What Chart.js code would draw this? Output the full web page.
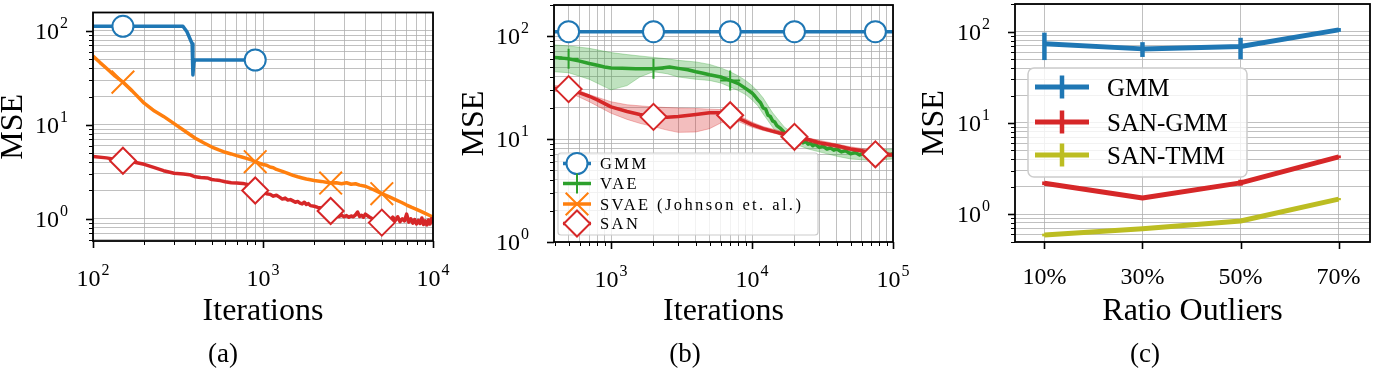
<!DOCTYPE html>
<html>
<head>
<meta charset="utf-8">
<script src="https://cdn.jsdelivr.net/npm/chart.js@4.4.1/dist/chart.umd.min.js"></script>
<style>
  html, body { margin: 0; padding: 0; background: #fff; }
  #wrap { position: relative; width: 1373px; height: 373px; overflow: hidden; background: #fff; }
  canvas { position: absolute; top: 0; }
</style>
</head>
<body>
<div id="wrap">
  <canvas id="g_a" width="455" height="373" style="left:0px"></canvas>
  <canvas id="g_b" width="465" height="373" style="left:455px"></canvas>
  <canvas id="g_c" width="468" height="373" style="left:905px"></canvas>
</div>
<script>
//Couleurs et police
const BLEU = '#1f77b4', ORANGE = '#ff7f0e', VERT = '#2ca02c', ROUGE = '#d62728', OLIVE = '#bcbd22';
const SERIF = "'Liberation Serif', 'DejaVu Serif', serif";

//---- (a) donnees ----
const aGmmX = [100, 150, 338, 357, 383, 387, 392, 398, 900];
const aGmmY = [112, 112, 112, 98, 73, 34, 46, 49, 49];
const aGmmMarks = [150, 900];

const aSvaeX = [100,110,120,135,150,170,200,230,260,300,
  350,400,450,500,550,600,650,700,750,800,
  850,900,950,1000,1050,1100,1150,1200,1300,1400,
  1500,1600,1700,1800,1900,2000,2200,2500,2700,2900,
  3100,3300,3500,3700,4000,4300,4600,5000,5500,6000,
  6500,7000,7500,8000,8500,9000,9500,10000];
const aSvaeY = [54,46,40,33,28.5,23,17,14,12.3,10.3,
  8.5,7.2,6.4,5.8,5.4,5.1,4.9,4.7,4.55,4.4,
  4.25,4.05,3.9,3.78,3.72,3.55,3.5,3.35,3.2,3.05,
  2.9,2.8,2.72,2.65,2.6,2.55,2.5,2.4,2.42,2.36,
  2.42,2.33,2.36,2.28,2.22,2.1,1.99,1.85,1.72,1.6,
  1.5,1.4,1.32,1.26,1.2,1.14,1.09,1.04];
const aSvaeMarks = [150, 900, 2500, 5000];

const aSanX = [100,120,150,170,200,230,260,300,340,370,
  400,430,470,500,530,560,600,650,700,760,
  820,870,900,950,1000,1050,1100,1150,1200,1250,
  1300,1350,1400,1450,1500,1550,1600,1650,1700,1750,
  1800,1850,1900,2000,2100,2200,2300,2400,2500,2600,
  2700,2800,2900,3000,3100,3200,3300,3400,3500,3600,
  3700,3800,3900,4000,4200,4400,4600,4800,5000,5200,
  5400,5600,5800,6000,6200,6400,6600,6800,7000,7200,
  7400,7600,7800,8000,8200,8400,8600,8800,9000,9200,
  9400,9600,9800,10000];
const aSanY = [4.6,4.45,4.15,4.05,3.8,3.5,3.25,3.05,3.0,2.95,
  2.8,2.75,2.72,2.62,2.58,2.55,2.48,2.42,2.4,2.38,
  2.3,2.15,2.0,1.98,1.95,1.85,1.82,1.74,1.78,1.7,
  1.62,1.66,1.58,1.6,1.55,1.5,1.53,1.47,1.44,1.5,
  1.42,1.45,1.38,1.36,1.32,1.3,1.26,1.23,1.21,1.15,
  1.1,1.06,1.09,1.05,1.08,1.04,1.07,1.05,1.1,1.18,
  1.06,1.09,1.04,1.12,1.05,1.0,0.96,0.93,0.91,0.95,
  1.02,0.97,1.04,0.96,1.05,0.93,1.0,0.95,1.12,0.92,
  1.0,0.9,0.98,0.88,0.96,0.89,1.02,0.87,0.95,0.86,
  0.97,0.88,1.0,0.9];
const aSanMarks = [150, 900, 2500, 5000];

//---- (b) donnees ----
const bLabels = ['GMM', 'VAE', 'SVAE (Johnson et. al.)', 'SAN'];
const bGmmX = [394, 500, 2000, 7000, 20000, 75000, 100000];
const bGmmY = [110, 110, 110, 110, 110, 110, 110];
const bMarks = [500, 2000, 7000, 20000, 75000];
const bVaeMarks = [500, 2000, 7000];

const bVaeX = [394,450,500,600,700,800,900,1000,1200,1500,
  2000,2300,2600,3000,3500,4000,4500,5000,6000,7000,
  8000,9000,10000,10500,11000,11500,12000,12500,13000,13500,
  14000,14500,15000,16000,17000,18000,19000,20000,21000,22000,
  23000,24000,25000,26000,27000,28000,30000,32000,34000,36000,
  38000,40000,43000,46000,50000,54000,58000,62000,66000,70000,
  75000,80000,85000,90000,95000,100000];
const bVaeY = [62,61,60,57,54,52,50,49,48.5,48,
  48,49,50,48.5,47,45,43.5,42,40,37,
  34.5,31,28,26,24,22.5,20,19.5,17,16.5,
  15,14.6,13.5,12.6,11.5,11,10.3,10.0,9.5,9.8,
  9.2,9.5,8.9,9.1,8.6,8.9,8.3,8.5,8.0,8.2,
  7.8,8.0,7.5,7.7,7.2,7.4,7.0,7.3,6.9,7.2,
  7.0,7.3,6.9,7.2,7.0,7.2];

const bVaeBandX = [394,500,700,1000,1300,1600,2000,2500,3000,4000,
  5000,6000,7000,8000,9000,10000,11000,12000,13000,14000,
  15000,17000,20000,25000,30000,40000,50000,70000,100000];
const bVaeHigh = [82,80,76,69,66,64,62,60,58,56,
  53,49,45,41,37,33,29,25,21,18,
  16,13,11.2,9.8,9.2,8.5,7.9,7.8,8.0];
const bVaeLow = [45,44,38,30,33,40,45,43,40,38,
  37,35,32,29.5,27,24,21,17.5,15,13,
  11.5,10,9.0,8.0,7.5,6.8,6.4,6.2,6.4];

const bSanX = [394,500,600,700,800,1000,1300,1600,2000,2500,
  3000,4000,5000,6000,7000,8000,10000,12000,15000,20000,
  25000,30000,40000,50000,60000,75000,100000];
const bSanY = [31,30.5,28,26,24,20.5,18.5,17.3,16.4,16.3,
  16.5,17.3,18,18,17,15.9,13.8,12.6,11.6,10.5,
  9.9,9.2,8.6,8.0,7.7,7.1,7.0];

const bSanBandX = [394,500,700,1000,1300,1600,2000,2500,3000,4000,
  5000,6000,7000,8000,10000,12000,15000,20000,30000,50000,100000];
const bSanHigh = [33,32.5,27,23,21.5,21,20.5,20.2,20,19.8,
  19.5,19.3,18.5,17,14.6,13.2,12.2,11,9.7,8.4,7.3];
const bSanLow = [29,28.5,23,17.8,15.5,14.2,13.2,12.2,11.6,11.7,
  12.6,14.3,15.6,14.8,13.0,12.1,11.2,10.1,8.8,7.7,6.7];

//---- (c) donnees ----
const cLabels = ['GMM', 'SAN-GMM', 'SAN-TMM'];
const cCats = ['10%', '30%', '50%', '70%'];
const cGmm = [74, 65, 69, 105];
const cGmmLo = [49, 53, 50, 100];
const cGmmHi = [98, 77, 86, 110];
const cSanGmm = [2.18, 1.5, 2.2, 4.25];
const cSanGmmLo = [2.08, 1.44, 2.05, 4.1];
const cSanGmmHi = [2.28, 1.56, 2.38, 4.4];
const cSanTmm = [0.59, 0.69, 0.84, 1.46];
const cSanTmmLo = [0.57, 0.67, 0.81, 1.42];
const cSanTmmHi = [0.61, 0.71, 0.87, 1.5];

//fonction qui transforme deux listes en points {x, y}
function points(xs, ys) {
    return xs.map((x, i) => ({x: x, y: ys[i]}));
}
//rayon du marqueur seulement aux abscisses choisies
function marqueurs(marks, r) {
    return ctx => (ctx.raw && marks.includes(ctx.raw.x)) ? r : 0;
}
//graduations log : 1..9 x 10^n entre min et max
function logTicks(min, max) {
    let ticks = [];
    for (let e = Math.floor(Math.log10(min)); e <= Math.ceil(Math.log10(max)); e++) {
        for (let m = 1; m <= 9; m++) {
            let v = m * Math.pow(10, e);
            if (v >= min * 0.9999 && v <= max * 1.0001) ticks.push({value: v, major: m === 1});
        }
    }
    return ticks;
}

//etiquette "10" avec exposant
function puissance(ctx, exp, x, y, align) {
    ctx.font = '24px ' + SERIF;
    const wb = ctx.measureText('10').width;
    ctx.font = '16px ' + SERIF;
    const we = ctx.measureText(String(exp)).width;
    const left = align === 'right' ? x - wb - 1 - we : x - (wb + 1 + we) / 2;
    ctx.textAlign = 'left';
    ctx.font = '24px ' + SERIF;
    ctx.fillText('10', left, y);
    ctx.font = '16px ' + SERIF;
    ctx.fillText(String(exp), left + wb + 1, y - 11);
}

//marqueur dessine a la main pour la legende
function marqueur(ctx, style, x, y, r, color) {
    ctx.strokeStyle = color;
    ctx.fillStyle = '#fff';
    ctx.lineWidth = 2;
    ctx.beginPath();
    if (style === 'circle') {
        ctx.arc(x, y, r, 0, 2 * Math.PI);
        ctx.fill(); ctx.stroke();
    } else if (style === 'rectRot') {
        ctx.moveTo(x, y - r); ctx.lineTo(x + r, y); ctx.lineTo(x, y + r); ctx.lineTo(x - r, y);
        ctx.closePath(); ctx.fill(); ctx.stroke();
    } else if (style === 'cross') {
        ctx.moveTo(x - r, y); ctx.lineTo(x + r, y); ctx.moveTo(x, y - r); ctx.lineTo(x, y + r);
        ctx.stroke();
    } else if (style === 'crossRot') {
        const d = r * Math.SQRT1_2;
        ctx.moveTo(x - d, y - d); ctx.lineTo(x + d, y + d); ctx.moveTo(x + d, y - d); ctx.lineTo(x - d, y + d);
        ctx.stroke();
    }
}

function boiteArrondie(ctx, x, y, w, h, r) {
    ctx.beginPath();
    ctx.moveTo(x + r, y);
    ctx.lineTo(x + w - r, y); ctx.arcTo(x + w, y, x + w, y + r, r);
    ctx.lineTo(x + w, y + h - r); ctx.arcTo(x + w, y + h, x + w - r, y + h, r);
    ctx.lineTo(x + r, y + h); ctx.arcTo(x, y + h, x, y + h - r, r);
    ctx.lineTo(x, y + r); ctx.arcTo(x, y, x + r, y, r);
    ctx.closePath();
}

function legende(ctx, lg) {
    ctx.save();
    boiteArrondie(ctx, lg.box[0], lg.box[1], lg.box[2], lg.box[3], lg.radius);
    ctx.fillStyle = 'rgba(255,255,255,0.8)';
    ctx.fill();
    ctx.strokeStyle = '#cccccc';
    ctx.lineWidth = lg.boxLine;
    ctx.stroke();
    lg.rows.forEach(r => {
        ctx.strokeStyle = r.color;
        ctx.lineWidth = lg.lineWidth;
        ctx.lineCap = 'butt';
        ctx.beginPath(); ctx.moveTo(lg.lineX[0], r.y); ctx.lineTo(lg.lineX[1], r.y); ctx.stroke();
        if (lg.bar) {
            ctx.lineWidth = lg.bar.width;
            ctx.beginPath(); ctx.moveTo(lg.markX, r.y - lg.bar.half); ctx.lineTo(lg.markX, r.y + lg.bar.half); ctx.stroke();
        }
        if (r.style) marqueur(ctx, r.style, lg.markX, r.y, r.radius, r.color);
        ctx.fillStyle = '#000';
        ctx.font = lg.font;
        if ('letterSpacing' in ctx) ctx.letterSpacing = lg.spacing || '0px';
        ctx.textAlign = 'left';
        ctx.textBaseline = 'alphabetic';
        ctx.fillText(r.label, lg.textX, r.y + lg.baseOffset);
    });
    ctx.restore();
}

//plugin : cadre, graduations, textes, barres d'erreur, legende
const decor = {
    id: 'decor',
    afterDatasetsDraw(chart, args, o) {
        if (!o.errorBars) return;
        const ctx = chart.ctx, sx = chart.scales.x, sy = chart.scales.y;
        ctx.save();
        o.errorBars.forEach(eb => {
            ctx.strokeStyle = eb.color;
            ctx.lineWidth = 4.5;
            eb.low.forEach((lo, i) => {
                const px = sx.getPixelForValue(i);
                ctx.beginPath();
                ctx.moveTo(px, sy.getPixelForValue(lo));
                ctx.lineTo(px, sy.getPixelForValue(eb.high[i]));
                ctx.stroke();
            });
        });
        ctx.restore();
    },
    afterDraw(chart, args, o) {
        const ctx = chart.ctx, a = chart.chartArea;
        const sx = chart.scales.x, sy = chart.scales.y;
        ctx.save();
        //cadre
        ctx.strokeStyle = '#000';
        ctx.lineWidth = 1.8;
        ctx.strokeRect(a.left, a.top, a.right - a.left, a.bottom - a.top);
        //graduations
        sy.ticks.forEach(t => {
            const p = Math.round(sy.getPixelForValue(t.value)) + 0.5;
            const len = t.major ? 7 : 4;
            ctx.lineWidth = t.major ? 1.6 : 1;
            ctx.beginPath(); ctx.moveTo(a.left - len, p); ctx.lineTo(a.left, p); ctx.stroke();
        });
        sx.ticks.forEach(t => {
            const p = Math.round(sx.getPixelForValue(t.value)) + 0.5;
            const len = t.major ? 7 : 4;
            ctx.lineWidth = t.major ? 1.6 : 1;
            ctx.beginPath(); ctx.moveTo(p, a.bottom); ctx.lineTo(p, a.bottom + len); ctx.stroke();
        });
        //etiquettes
        ctx.fillStyle = '#000';
        ctx.textBaseline = 'alphabetic';
        sy.ticks.filter(t => t.major).forEach(t => {
            puissance(ctx, Math.round(Math.log10(t.value)), a.left - 25, sy.getPixelForValue(t.value) + 8, 'right');
        });
        if (o.xCats) {
            ctx.font = '24px ' + SERIF;
            ctx.textAlign = 'center';
            o.xCats.forEach((c, i) => ctx.fillText(c, sx.getPixelForValue(i), a.bottom + 42));
        } else {
            sx.ticks.filter(t => t.major).forEach(t => {
                puissance(ctx, Math.round(Math.log10(t.value)), sx.getPixelForValue(t.value), a.bottom + 45, 'center');
            });
        }
        //titres des axes
        ctx.font = '32px ' + SERIF;
        ctx.textAlign = 'center';
        ctx.fillText(o.xTitle, (a.left + a.right) / 2, 320);
        ctx.save();
        ctx.translate(o.yTitleX, (a.top + a.bottom) / 2);
        ctx.rotate(-Math.PI / 2);
        ctx.fillText('MSE', 0, 0);
        ctx.restore();
        //legende du sous-graphe
        ctx.font = '27px ' + SERIF;
        ctx.fillText(o.caption, o.captionX, 362);
        if (o.legend) legende(ctx, o.legend);
        ctx.restore();
    }
};

//options communes
function grille() {
    return {color: '#b0b0b0', lineWidth: 0.8, drawTicks: false};
}
function options(cfg) {
    return {
        responsive: false,
        animation: false,
        events: [],
        layout: {padding: {left: 0, top: cfg.top, right: cfg.right, bottom: 0}},
        elements: {line: {tension: 0, borderJoinStyle: 'round'}},
        plugins: {legend: {display: false}, tooltip: {enabled: false}, decor: cfg.decor},
        scales: {
            x: {
                type: cfg.xType, min: cfg.xMin, max: cfg.xMax,
                afterBuildTicks: s => { s.ticks = cfg.xTicks(); },
                afterFit: s => { s.height = cfg.xHeight; },
                ticks: {display: false},
                grid: grille(),
                border: {display: false}
            },
            y: {
                type: 'logarithmic', min: cfg.yMin, max: cfg.yMax,
                afterBuildTicks: s => { s.ticks = logTicks(cfg.yMin, cfg.yMax); },
                afterFit: s => { s.width = cfg.yWidth; },
                ticks: {display: false},
                grid: grille(),
                border: {display: false}
            }
        }
    };
}

function serie(xs, ys, color, extra) {
    return Object.assign({
        data: points(xs, ys),
        borderColor: color,
        borderWidth: 3.5,
        fill: false,
        pointRadius: 0,
        pointBackgroundColor: '#fff',
        pointBorderColor: color,
        pointBorderWidth: 2
    }, extra);
}

//---- graphe (a) ----
new Chart(document.getElementById('g_a'), {
    type: 'line',
    data: {datasets: [
        serie(aGmmX, aGmmY, BLEU, {label: 'GMM', pointStyle: 'circle', pointRadius: marqueurs(aGmmMarks, 10.5), order: 3}),
        serie(aSvaeX, aSvaeY, ORANGE, {label: 'SVAE', pointStyle: 'crossRot', pointRadius: marqueurs(aSvaeMarks, 16), order: 2}),
        serie(aSanX, aSanY, ROUGE, {label: 'SAN', pointStyle: 'rectRot', pointRadius: marqueurs(aSanMarks, 13), order: 1})
    ]},
    options: options({
        top: 5, right: 22, xHeight: 132, yWidth: 93,
        xType: 'logarithmic', xMin: 100, xMax: 10000, xTicks: () => logTicks(100, 10000),
        yMin: 0.58, yMax: 157,
        decor: {xTitle: 'Iterations', yTitleX: 22, caption: '(a)', captionX: 223}
    }),
    plugins: [decor]
});

//---- graphe (b) ----
const bande = (c) => 'rgba(' + c + ',0.3)';
new Chart(document.getElementById('g_b'), {
    type: 'line',
    data: {datasets: [
        serie(bGmmX, bGmmY, BLEU, {label: 'GMM', pointStyle: 'circle', pointRadius: marqueurs(bMarks, 10.5), order: 8}),
        serie(bVaeBandX, bVaeLow, 'rgba(44,160,44,0.3)', {borderWidth: 1, order: 7}),
        serie(bVaeBandX, bVaeHigh, 'rgba(44,160,44,0.3)', {borderWidth: 1, fill: '-1', backgroundColor: bande('44,160,44'), order: 6}),
        serie(bVaeX, bVaeY, VERT, {label: 'VAE', pointStyle: 'cross', pointRadius: marqueurs(bVaeMarks, 10), order: 5}),
        serie(bSanBandX, bSanLow, 'rgba(214,39,40,0.3)', {borderWidth: 1, order: 4}),
        serie(bSanBandX, bSanHigh, 'rgba(214,39,40,0.3)', {borderWidth: 1, fill: '-1', backgroundColor: bande('214,39,40'), order: 3}),
        serie(bSanX, bSanY, ROUGE, {label: 'SAN', pointStyle: 'rectRot', pointRadius: marqueurs(bMarks, 13), order: 2})
    ]},
    options: options({
        top: 5, right: 27, xHeight: 131, yWidth: 99,
        xType: 'logarithmic', xMin: 394, xMax: 100000, xTicks: () => logTicks(394, 100000),
        yMin: 1, yMax: 200,
        decor: {
            xTitle: 'Iterations', yTitleX: 28, caption: '(b)', captionX: 230,
            legend: {
                box: [103, 153, 260, 82], radius: 3, boxLine: 1.2,
                lineX: [108, 136], markX: 122, textX: 145, lineWidth: 3.5,
                font: '16.5px ' + SERIF, spacing: '2.4px', baseOffset: 5.5,
                rows: [
                    {label: bLabels[0], color: BLEU, style: 'circle', radius: 10.5, y: 163.5},
                    {label: bLabels[1], color: VERT, style: 'cross', radius: 10, y: 183.5},
                    {label: bLabels[2], color: ORANGE, style: 'crossRot', radius: 16, y: 204},
                    {label: bLabels[3], color: ROUGE, style: 'rectRot', radius: 13, y: 223.5}
                ]
            }
        }
    }),
    plugins: [decor]
});

//---- graphe (c) ----
const cIdx = cCats.map((c, i) => i);
new Chart(document.getElementById('g_c'), {
    type: 'line',
    data: {datasets: [
        serie(cIdx, cGmm, BLEU, {label: cLabels[0], borderWidth: 5, order: 3}),
        serie(cIdx, cSanGmm, ROUGE, {label: cLabels[1], borderWidth: 5, order: 2}),
        serie(cIdx, cSanTmm, OLIVE, {label: cLabels[2], borderWidth: 5, order: 1})
    ]},
    options: options({
        top: 4, right: 3, xHeight: 131, yWidth: 110,
        xType: 'linear', xMin: -0.3, xMax: 3.32, xTicks: () => cIdx.map(v => ({value: v, major: true})),
        yMin: 0.494, yMax: 202,
        decor: {
            xTitle: 'Ratio Outliers', yTitleX: 38, caption: '(c)', captionX: 240, xCats: cCats,
            errorBars: [
                {color: BLEU, low: cGmmLo, high: cGmmHi},
                {color: ROUGE, low: cSanGmmLo, high: cSanGmmHi},
                {color: OLIVE, low: cSanTmmLo, high: cSanTmmHi}
            ],
            legend: {
                box: [123, 68, 219, 109], radius: 6, boxLine: 1.5,
                lineX: [130, 184], markX: 157, textX: 202, lineWidth: 5,
                bar: {width: 4.5, half: 11.5},
                font: '25px ' + SERIF, baseOffset: 8.5,
                rows: [
                    {label: cLabels[0], color: BLEU, y: 87},
                    {label: cLabels[1], color: ROUGE, y: 122},
                    {label: cLabels[2], color: OLIVE, y: 155}
                ]
            }
        }
    }),
    plugins: [decor]
});
</script>
</body>
</html>
